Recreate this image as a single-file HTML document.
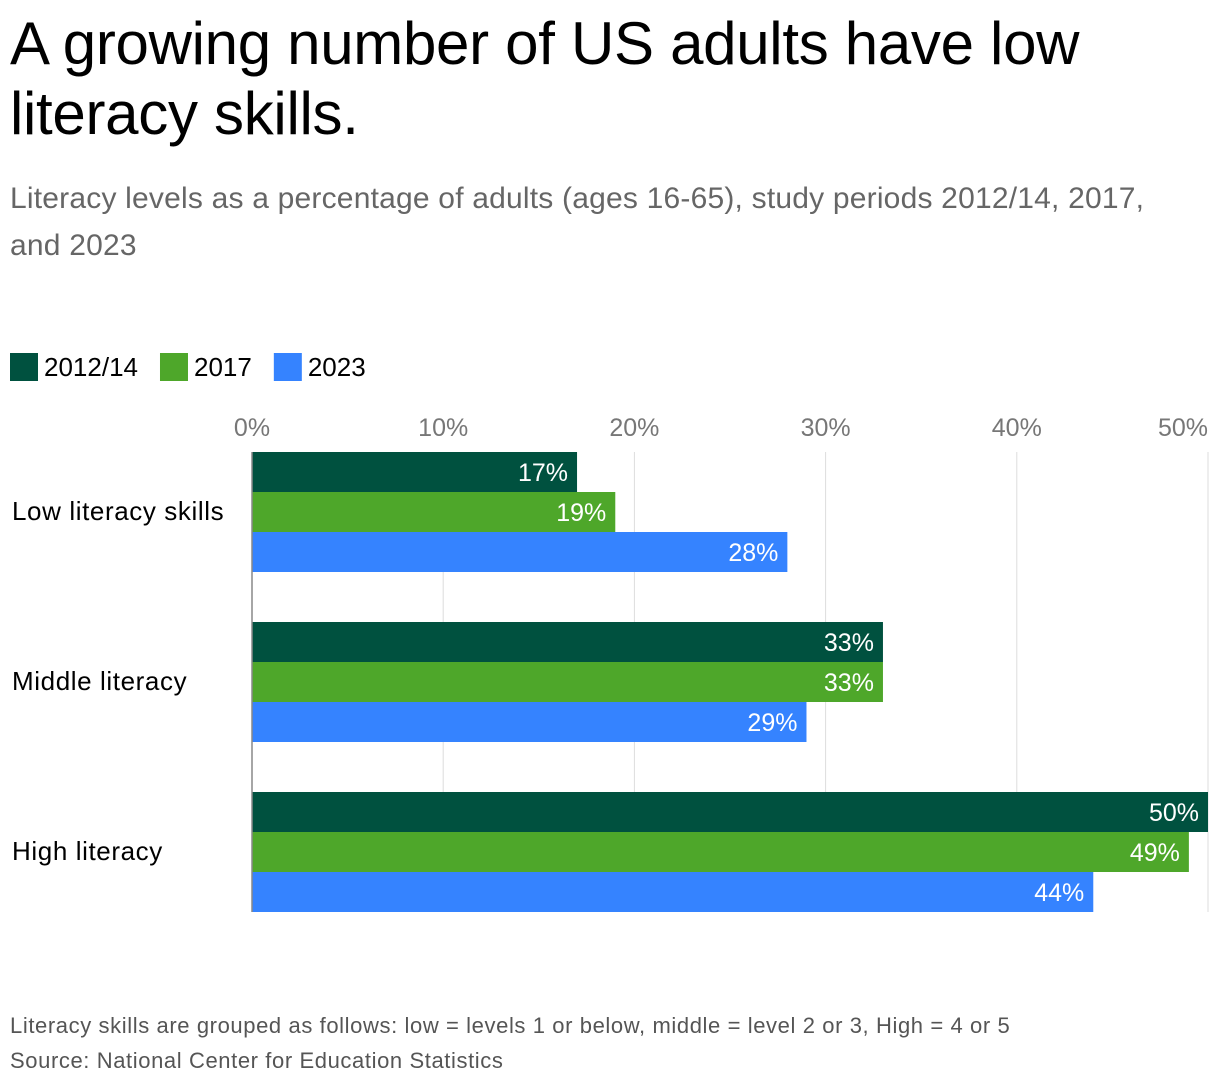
<!DOCTYPE html>
<html><head><meta charset="utf-8"><style>
body{margin:0;background:#fff;width:1220px;height:1090px;overflow:hidden;font-family:"Liberation Sans",sans-serif}
.t{position:absolute;left:10px;margin:0}
</style></head><body>
<h1 class="t" style="top:9px;width:1150px;font-size:60px;line-height:70px;font-weight:normal;color:#000;letter-spacing:-0.3px">A growing number of US adults have low literacy skills.</h1>
<div class="t" style="top:175px;font-size:30px;line-height:47px;color:#666;width:1160px;letter-spacing:0.2px">Literacy levels as a percentage of adults (ages 16-65), study periods 2012/14, 2017, and 2023</div>
<svg width="1220" height="1090" style="position:absolute;left:0;top:0" id="chart" font-family="Liberation Sans, sans-serif"></svg>
<div class="t" style="top:1013px;font-size:22px;color:#555;letter-spacing:0.6px">Literacy skills are grouped as follows: low = levels 1 or below, middle = level 2 or 3, High = 4 or 5</div>
<div class="t" style="top:1048px;font-size:22px;color:#555;letter-spacing:0.6px">Source: National Center for Education Statistics</div>
<script>
const categories=["Low literacy skills","Middle literacy","High literacy"];
const seriesNames=["2012/14","2017","2023"];
const s2012=[17,33,50];
const s2017=[19,33,49];
const s2023=[28,29,44];
const ticks=[0,10,20,30,40,50];
const colors=["#00513f","#4ea72a","#3583ff"];
const svg=document.getElementById('chart');
const NS="http://www.w3.org/2000/svg";
const x0=252,x1=1208,xmax=50;
const xs=v=>x0+(x1-x0)*v/xmax;
const gy=i=>452+i*170;
function mk(t,a,p){const e=document.createElementNS(NS,t);for(const k in a)e.setAttribute(k,a[k]);(p||svg).appendChild(e);return e;}
let lx=10;
seriesNames.forEach((n,i)=>{
 const r=mk('rect',{x:lx,y:353,width:28,height:28,fill:colors[i]});
 
 
 const t=mk('text',{x:lx+34,y:376,'font-size':26,fill:'#000'});t.textContent=n;
 
 
 lx+=34+t.getComputedTextLength()+22;
});
ticks.forEach((v,i)=>{
 const g=mk('line',{x1:xs(v),x2:xs(v),y1:452,y2:912,stroke:v==0?'#888':'#ddd','stroke-width':1});
 
 
 const t=mk('text',{x:xs(v),y:436,'font-size':25,fill:'#777','text-anchor':i==ticks.length-1?'end':'middle'});
 t.textContent=v+'%';
 
 
});
const series=[s2012,s2017,s2023];
categories.forEach((c,ci)=>{
 const t=mk('text',{x:12,y:gy(ci)+68,'font-size':26,fill:'#000','letter-spacing':0.6});t.textContent=c;
 
 
 series.forEach((s,si)=>{
  const y=gy(ci)+si*40;
  const r=mk('rect',{x:x0,y:y,width:xs(s[ci])-x0,height:40,fill:colors[si]});
  
  
  const l=mk('text',{x:xs(s[ci])-9,y:y+29,'font-size':25,fill:'#fff','text-anchor':'end'});
  l.textContent=s[ci]+'%';
  
  
 });
});
mk('line',{x1:x0,x2:x0,y1:452,y2:912,stroke:'#888','stroke-width':1.5});
</script>
</body></html>
